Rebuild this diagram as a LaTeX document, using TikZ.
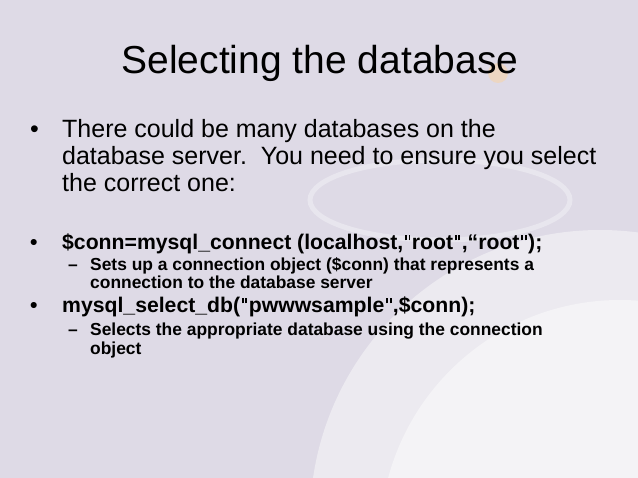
\documentclass[tikz,border=0pt]{standalone}
\usepackage{fontspec}
\setmainfont{Liberation Sans}
\newcommand{\dq}{\kern.07em\rule[.45em]{.09em}{.27em}\kern.09em\rule[.45em]{.09em}{.27em}\kern.07em}
\begin{document}
\begin{tikzpicture}[x=1pt,y=-1pt,every node/.style={inner sep=0pt},
  title/.style={anchor=base,font=\fontsize{39}{44}\selectfont},
  body/.style={anchor=base west,font=\fontsize{25}{28}\selectfont},
  bbody/.style={anchor=base west,font=\fontsize{21.2}{24}\selectfont\bfseries},
  sub/.style={anchor=base west,font=\fontsize{17.4}{20}\selectfont\bfseries}]
\fill[color={rgb,255:red,222;green,218;blue,230}] (0,0) rectangle (638,478);
\useasboundingbox (0,0) rectangle (638,478);
\fill[color={rgb,255:red,236;green,234;blue,240}] (600,520) circle (290);
\fill[color={rgb,255:red,244;green,243;blue,246}] (620,540) circle (240);
\draw[color={rgb,255:red,232;green,230;blue,238},line width=5pt] (440,200) ellipse (130 and 40);
\fill[color={rgb,255:red,236;green,214;blue,194}] (498,73) circle (10);
\node[title] (t) at (320,74) {Selecting the database};
\node[body] (b1) at (30,138) {•};
\node[body] (l1) at (62,138) {There could be many databases on the};
\node[body] (l2) at (62,165) {database server.\ \ You need to ensure you select};
\node[body] (l3) at (62,192) {the correct one:};
\node[bbody] (b2) at (30,250) {•};
\node[bbody] (l4) at (62,250) {\$conn=mysql\_connect (localhost,\dq root\dq,“root\dq);};
\node[sub] (d1) at (68,271) {–};
\node[sub] (l5) at (90,271) {Sets up a connection object (\$conn) that represents a};
\node[sub] (l6) at (90,289) {connection to the database server};
\node[bbody] (b3) at (30,313) {•};
\node[bbody] (l7) at (62,313) {mysql\_select\_db(\dq pwwwsample\dq,\$conn);};
\node[sub] (d2) at (68,336) {–};
\node[sub] (l8) at (90,336) {Selects the appropriate database using the connection};
\node[sub] (l9) at (90,355) {object};
\end{tikzpicture}
\end{document}
